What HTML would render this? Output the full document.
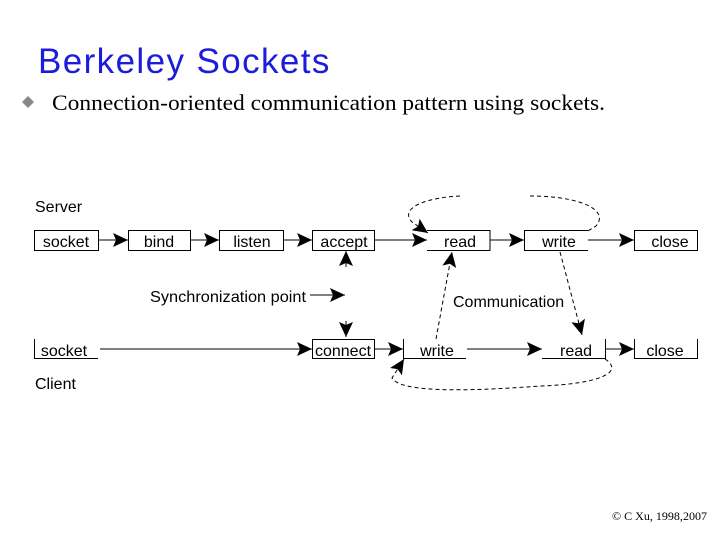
<!DOCTYPE html>
<html><head><meta charset="utf-8"><style>
body{margin:0;background:#fff;width:720px;height:540px;overflow:hidden}
</style></head><body>
<svg width="720" height="540" xmlns="http://www.w3.org/2000/svg" font-family="Liberation Sans, sans-serif">
<defs>
<marker id="a" markerWidth="15" markerHeight="14" refX="15" refY="7" orient="auto" markerUnits="userSpaceOnUse">
<path d="M0,0 L15,7 L0,14 L3,7 Z" fill="#000"/></marker>
</defs>
<text x="38" y="73" font-size="35" fill="#1c1cdc" font-family="Liberation Sans, sans-serif" letter-spacing="1.4">Berkeley Sockets</text>
<path d="M28,96 L34,102 L28,108 L22,102 Z" fill="#888"/>
<text x="52" y="110" font-size="22" font-family="Liberation Serif, serif" textLength="553" lengthAdjust="spacingAndGlyphs">Connection-oriented communication pattern using sockets.</text>
<text x="612" y="520" font-size="11.5" font-family="Liberation Serif, serif" textLength="95" lengthAdjust="spacingAndGlyphs">© C Xu, 1998,2007</text>

<g font-size="16" fill="#000">
<text x="35" y="212">Server</text>
<text x="35" y="389">Client</text>
<text x="150" y="302" textLength="156" lengthAdjust="spacingAndGlyphs">Synchronization point</text>
<text x="453" y="307">Communication</text>
</g>
<g fill="none" stroke="#000" stroke-width="1">
<rect x="34.5" y="230.5" width="64" height="20"/>
<rect x="128.5" y="230.5" width="62" height="20"/>
<rect x="219.5" y="230.5" width="64" height="20"/>
<rect x="312.5" y="230.5" width="62" height="20"/>
<path d="M427,230.5H490V250.5H427"/>
<path d="M524,230.5H588M524,250.5H588M524.5,230V251"/>
<rect x="634.5" y="230.5" width="63" height="20"/>
<path d="M34.5,339V358.5H98"/>
<rect x="312.5" y="339.5" width="62" height="19"/>
<path d="M403.5,339V358.5H466"/>
<path d="M542,358.5H605.5V339"/>
<path d="M634.5,339V358.5H697.5V339"/>
</g>
<g stroke="#000" stroke-width="1" fill="none">
<line x1="98" y1="240" x2="128" y2="240" marker-end="url(#a)"/>
<line x1="190" y1="240" x2="219" y2="240" marker-end="url(#a)"/>
<line x1="283" y1="240" x2="312" y2="240" marker-end="url(#a)"/>
<line x1="374" y1="240" x2="427" y2="240" marker-end="url(#a)"/>
<line x1="490" y1="240" x2="524" y2="240" marker-end="url(#a)"/>
<line x1="588" y1="240" x2="634" y2="240" marker-end="url(#a)"/>
<line x1="100" y1="349" x2="312" y2="349" marker-end="url(#a)"/>
<line x1="374" y1="349" x2="403" y2="349" marker-end="url(#a)"/>
<line x1="467" y1="349" x2="542" y2="349" marker-end="url(#a)"/>
<line x1="605" y1="349" x2="634" y2="349" marker-end="url(#a)"/>
<line x1="310" y1="295" x2="345" y2="295" marker-end="url(#a)"/>
<line x1="346" y1="267" x2="346" y2="251" marker-end="url(#a)"/>
<line x1="346" y1="321" x2="346" y2="337" marker-end="url(#a)"/>
</g>
<g stroke="#000" stroke-width="1" fill="none" stroke-dasharray="4,3">
<path d="M460,196 C420,198 400,210 412,222 L428,233" marker-end="url(#a)"/>
<path d="M530,196 C580,196 610,210 596,226 L588,231"/>
<path d="M436,339 L452,252" marker-end="url(#a)"/>
<path d="M560,252 L582,335" marker-end="url(#a)"/>
<path d="M605,359 C625,372 600,384 540,386 C460,392 400,392 392,378 L404,359" marker-end="url(#a)"/>
</g>
<g font-size="16" fill="#000" text-anchor="middle">
<text x="66" y="247">socket</text>
<text x="159" y="247">bind</text>
<text x="252" y="247">listen</text>
<text x="344" y="247">accept</text>
<text x="460" y="247">read</text>
<text x="559" y="247">write</text>
<text x="670" y="247">close</text>
<text x="64" y="356">socket</text>
<text x="343" y="356">connect</text>
<text x="437" y="356">write</text>
<text x="576" y="356">read</text>
<text x="665" y="356">close</text>
</g>
</svg>
</body></html>
